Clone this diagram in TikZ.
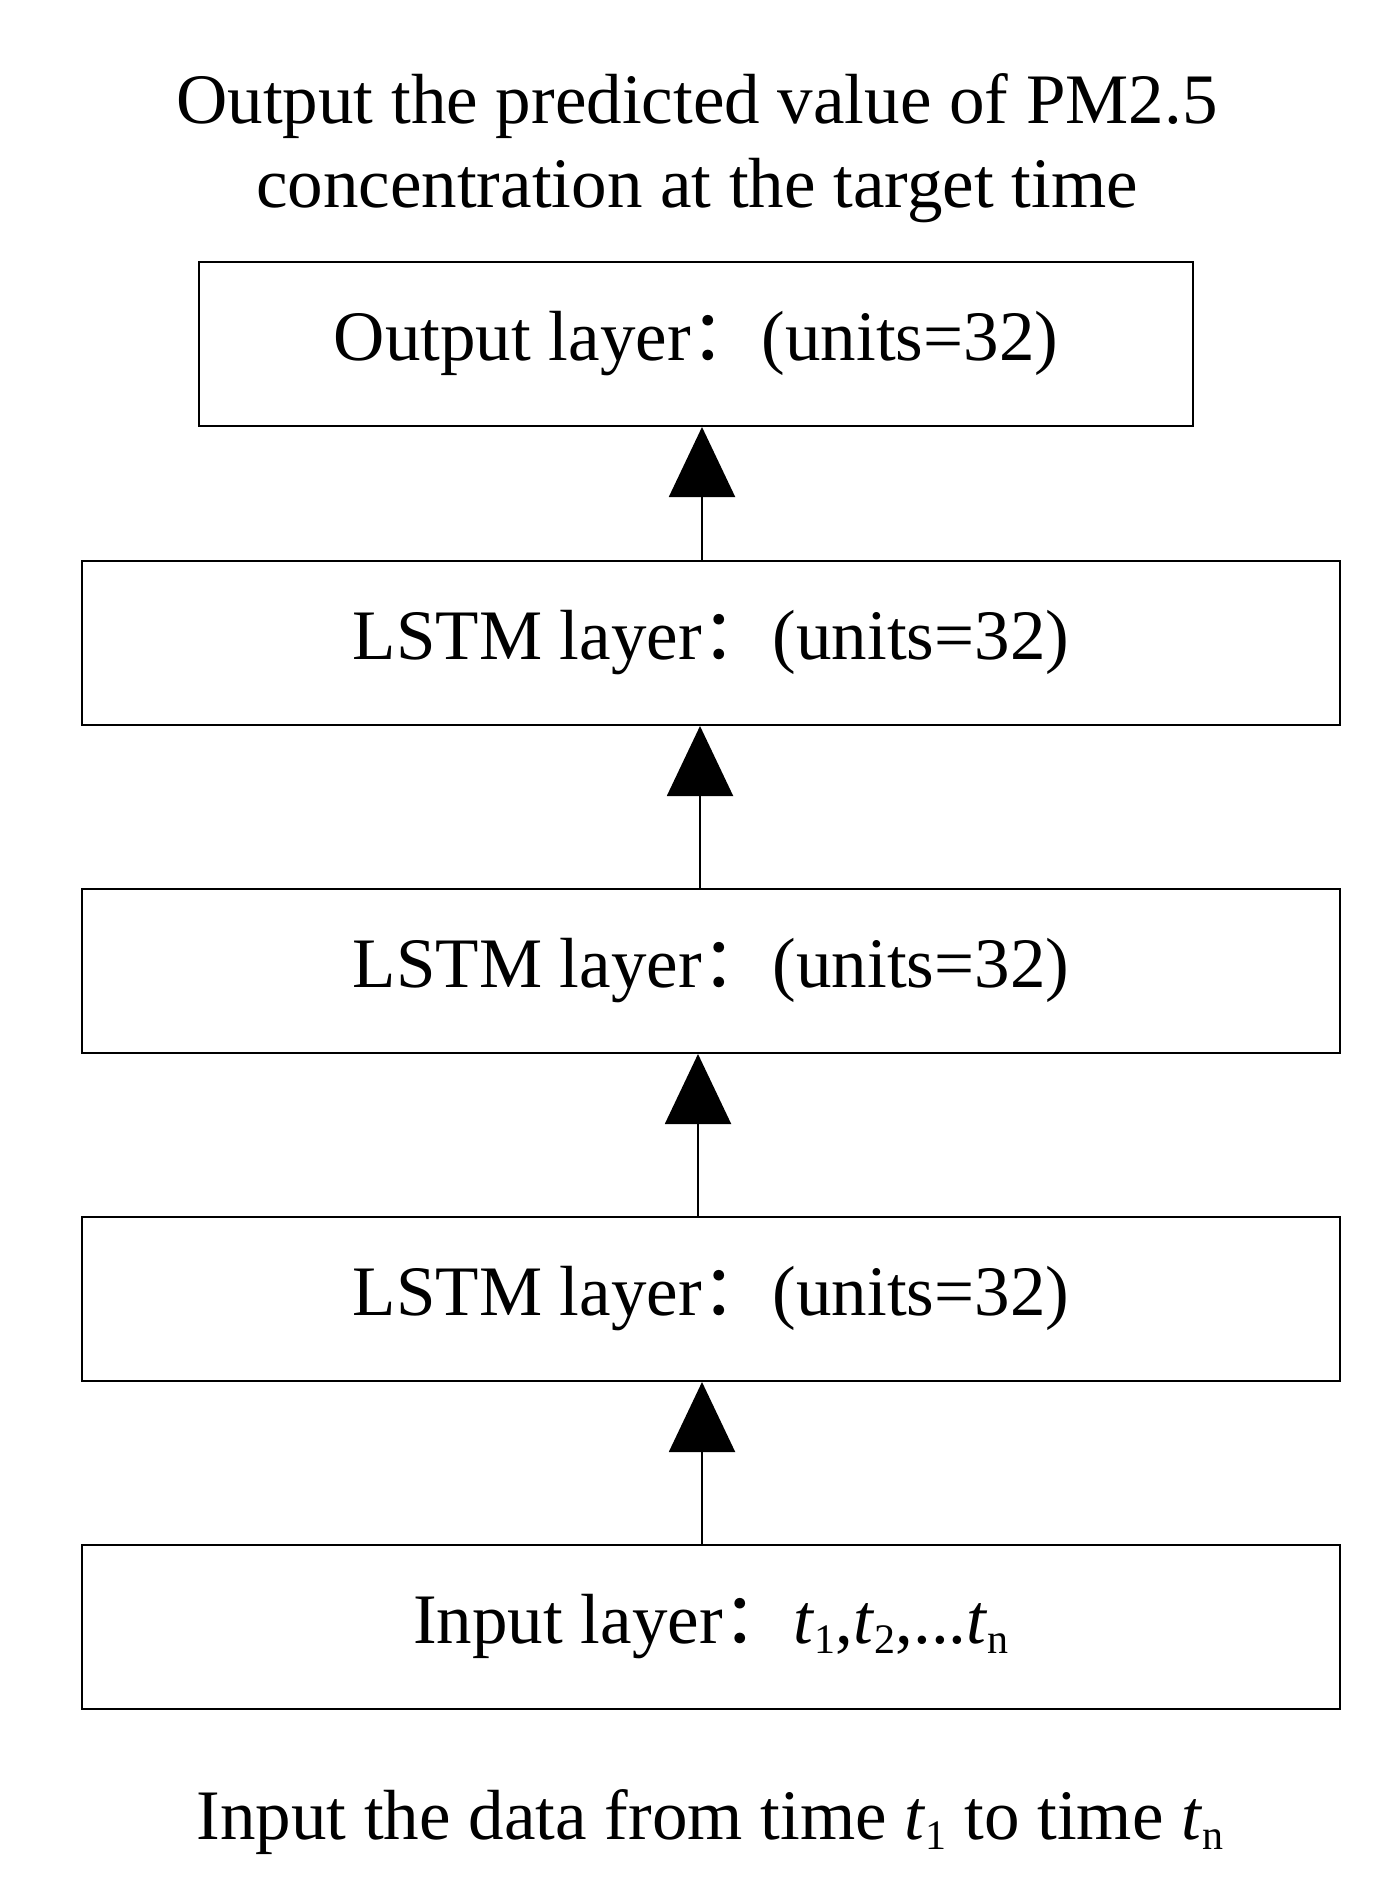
\documentclass[tikz,border=0pt]{standalone}
\usepackage{fontspec}
\setmainfont{Liberation Serif}
\newfontfamily\cjk{Noto Sans CJK SC}
\usetikzlibrary{arrows.meta}
\newcommand{\tsub}[2]{\textit{#1}\raisebox{-0.3ex}{\fontsize{42}{42}\selectfont #2}}
\begin{document}
\begin{tikzpicture}[x=1pt,y=-1pt,
  box/.style={draw,line width=2pt,minimum height=164pt,inner sep=0pt},
  txt/.style={font=\fontsize{71}{84}\selectfont},
  arr/.style={line width=2pt,-{Triangle[width=66pt,length=70pt]}}]
\useasboundingbox (0,0) rectangle (1393,1884);
\node[txt,align=center] (title) at (697,148) {Output the predicted value of PM2.5\\concentration at the target time};
\node[box,txt,minimum width=994pt] (out) at (696,344) {Output layer{\cjk ：}(units=32)};
\node[box,txt,minimum width=1258pt] (l1) at (711,643) {LSTM layer{\cjk ：}(units=32)};
\node[box,txt,minimum width=1258pt] (l2) at (711,971) {LSTM layer{\cjk ：}(units=32)};
\node[box,txt,minimum width=1258pt] (l3) at (711,1299) {LSTM layer{\cjk ：}(units=32)};
\node[box,txt,minimum width=1258pt] (in) at (711,1627) {Input layer{\cjk ：}\tsub{t}{1},\tsub{t}{2},...\tsub{t}{n}};
\node[txt] (bot) at (710,1822) {Input the data from time \tsub{t}{1} to time \tsub{t}{n}};
\draw[arr] (l1.north-|702,0) -- (out.south-|702,0);
\draw[arr] (l2.north-|700,0) -- (l1.south-|700,0);
\draw[arr] (l3.north-|698,0) -- (l2.south-|698,0);
\draw[arr] (in.north-|702,0) -- (l3.south-|702,0);
\end{tikzpicture}
\end{document}
